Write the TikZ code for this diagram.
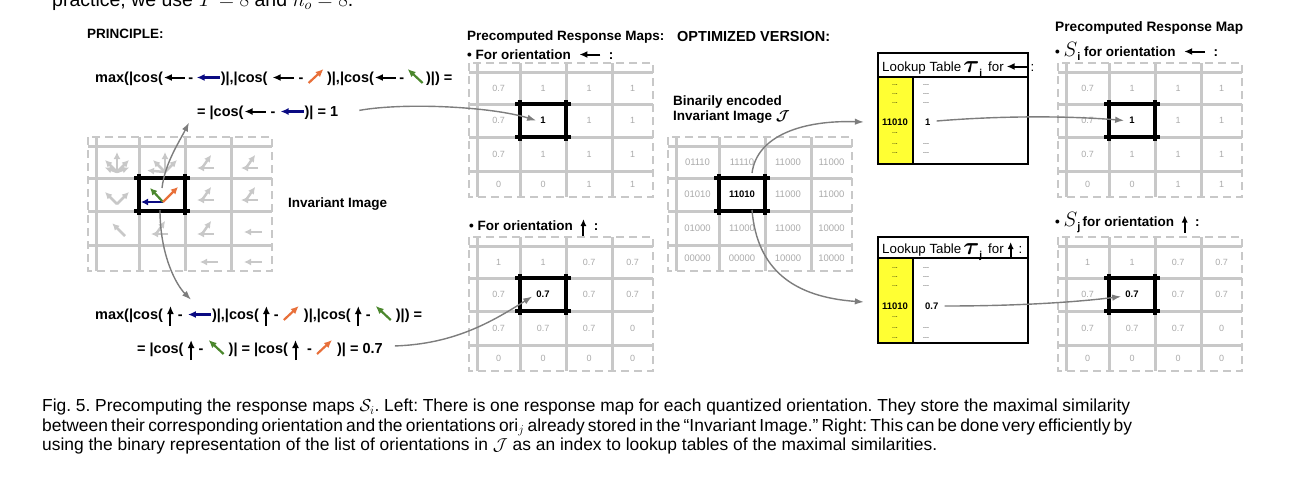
\documentclass[tikz,border=0pt]{standalone}
\usepackage{amsmath}
\usepackage{fontspec}
\setmainfont{Liberation Sans}
\usepackage{bm}
\usetikzlibrary{arrows.meta,calc}

\definecolor{gridgray}{RGB}{200,200,200}
\definecolor{valgray}{RGB}{170,170,170}
\definecolor{conngray}{RGB}{125,125,125}
\definecolor{navyb}{RGB}{10,10,130}
\definecolor{orng}{RGB}{232,112,58}
\definecolor{grn}{RGB}{75,135,45}
\definecolor{yel}{RGB}{255,255,51}

\tikzset{
 gridborder/.style={draw=gridgray, line width=2pt, dash pattern=on 8pt off 5pt},
 gridline/.style={draw=gridgray, line width=3pt},
 hilite/.style={draw=black, line width=3.5pt},
 val/.style={text=valgray, font=\fontsize{9}{9}\selectfont, inner sep=0pt},
 valbold/.style={text=black, font=\bfseries\fontsize{9.5}{9.5}\selectfont, inner sep=0pt},
 conn/.style={draw=conngray, line width=1.4pt, -{Latex[length=9pt,width=6.5pt]}},
 lbl/.style={font=\bfseries\fontsize{13.5}{15}\selectfont, inner sep=0pt, anchor=base west},
 formula/.style={font=\bfseries\fontsize{14.5}{16}\selectfont, inner sep=0pt, anchor=base west},
 garrow/.style={draw=gridgray, line width=2.5pt, -{Latex[length=7pt,width=7pt]}},
 carrow/.style={line width=2.2pt, -{Latex[length=7pt,width=7pt]}},
 tabtxt/.style={font=\fontsize{7}{7}\selectfont, inner sep=0pt},
 tabbold/.style={font=\bfseries\fontsize{9.5}{9.5}\selectfont, inner sep=0pt},
 tabhead/.style={font=\fontsize{13.3}{15}\selectfont, inner sep=0pt, anchor=base west},
 captxt/.style={font=\fontsize{17.4}{20}\selectfont, inner sep=0pt, anchor=base west},
}

\newcommand\arrK{\tikz[x=1pt,y=1pt,baseline=0pt]\draw[line width=2pt,-{Latex[length=8pt,width=7pt]}] (21,4.5) -- (0,4.5);}
\newcommand\arrU{\tikz[x=1pt,y=1pt,baseline=0pt]\draw[line width=2pt,-{Latex[length=8pt,width=7pt]}] (0,-7) -- (0,13);}
\newcommand\arrUs{\tikz[x=1pt,y=1pt,baseline=0pt]\draw[line width=2pt,-{Latex[length=7pt,width=6pt]}] (0,-6) -- (0,11);}
\newcommand\arrB{\tikz[x=1pt,y=1pt,baseline=0pt]\draw[navyb,line width=2.2pt,-{Latex[length=8pt,width=7pt]}] (23,4.5) -- (0,4.5);}
\newcommand\arrO{\tikz[x=1pt,y=1pt,baseline=0pt]\draw[orng,line width=2.2pt,-{Latex[length=8pt,width=7pt]}] (0,-1) -- (15,13);}
\newcommand\arrG{\tikz[x=1pt,y=1pt,baseline=0pt]\draw[grn,line width=2.2pt,-{Latex[length=8pt,width=7pt]}] (15,-1) -- (0,13);}

\newcommand\drawgrid[2]{%
 \begin{scope}[shift={(#1,#2)}]
  \draw[gridborder] (0,0) rectangle (184,134);
  \foreach \vx in {8,51,97,143} \draw[gridline] (\vx,0) -- (\vx,134);
  \foreach \hy in {9,41,74,108} \draw[gridline] (0,\hy) -- (184,\hy);
  \draw[hilite] (46,41) -- (102,41) (46,74) -- (102,74) (51,37) -- (51,78) (97,37) -- (97,78);
 \end{scope}}

\newcommand\gridvals[4]{%
 \foreach \vv [count=\ii from 0] in {#4} {
   \pgfmathtruncatemacro\cc{mod(\ii,4)}
   \pgfmathtruncatemacro\rr{floor(\ii/4)}
   \pgfmathsetmacro\cx{{29.5,74,120,163.5}[\cc]}
   \pgfmathsetmacro\cy{{25,57.5,91,121}[\rr]}
   \node[#3] at ($(#1,#2)+(\cx,\cy)$) {\vv};
 }}

\begin{document}
\begin{tikzpicture}[x=1pt,y=-1pt]
\useasboundingbox (0,0) rectangle (1303,485);
\clip (0,0) rectangle (1303,485);

% partial line of text above the figure (cut by the top edge)
\node[captxt, font=\fontsize{19.5}{22}\selectfont] (topline) at (52,6) {practice, we use $T=8$ and $n_o=8$.};

% ---------------- PRINCIPLE ----------------
\node[lbl] (princ) at (87,38) {PRINCIPLE:};
\node[formula] (row1) at (95,82) {max(|cos(\arrK\,-\,\arrB)|,|cos( \arrK\ -\ \arrO\,)|,|cos(\arrK\,-\,\arrG\,)|) =};
\node[formula] (row2) at (197,116) {= |cos(\arrK\ -\ \arrB)| = 1};
\node[formula] (row3) at (95,319) {max(|cos( \arrU\ -\ \arrB)|,|cos( \arrU\ -\ \arrO\ )|,|cos( \arrU\ -\ \arrG\ )|) =};
\node[formula] (row4) at (137,353) {= |cos( \arrU\ -\ \arrG\ )| = |cos( \arrU\ \ -\ \arrO\ )| = 0.7};

% invariant image
\drawgrid{88}{137}
\foreach \ox/\oy/\ang/\len in {
  117/172/270/20, 117/172/225/17, 117/172/315/17, 117/172/200/13, 117/172/340/13,
  165/172/270/20, 165/172/225/17, 165/172/315/17, 165/172/185/18,
  214/168/180/17, 202/168/305/16,
  258/168/180/17, 246/168/305/16,
  117/204/225/17, 117/204/315/17,
  214/200/180/17, 202/200/305/16,
  258/200/180/17, 246/200/305/16,
  125/236/225/18,
  168/234/180/17, 156/234/305/16,
  214/234/180/17, 202/234/305/16,
  262/232/180/18,
  218/262/180/18, 262/262/180/18}
  \draw[garrow] (\ox,\oy) -- ++(\ang:\len);
\coordinate (invc) at (163,202);
\draw[carrow,navyb] (invc) -- ++(-22,0);
\draw[carrow,grn] (invc) -- ++(-13,-14);
\draw[carrow,orng] (invc) -- ++(15,-15);
\node[lbl] (invlbl) at (288,207) {Invariant Image};
\coordinate (invtop) at (162,188);
\coordinate (invbot) at (160,210);

% ---------------- response maps (left) ----------------
\node[lbl] (prmaps) at (467,40.5) {Precomputed Response Maps:};
\node[lbl] (fo1) at (467,59) {\textbullet\ For orientation \ \arrK\ \ :};
\drawgrid{469}{63}
\gridvals{469}{63}{val}{0.7,1,1,1,0.7,{},1,1,0.7,1,1,1,0,0,1,1}
\node[valbold] (m1v) at (543,120.5) {1};

\node[lbl] (fo2) at (469,230) {\textbullet\ For orientation \ \arrUs\ \ :};
\drawgrid{469}{237}
\gridvals{469}{237}{val}{1,1,0.7,0.7,0.7,{},0.7,0.7,0.7,0.7,0.7,0,0,0,0,0}
\node[valbold] (m2v) at (543,294.5) {0.7};

% ---------------- OPTIMIZED ----------------
\node[lbl, font=\bfseries\fontsize{14.5}{16}\selectfont] (optim) at (677,41.5) {OPTIMIZED VERSION:};
\node[lbl] (bin1) at (673,105) {Binarily encoded};
\node[lbl] (bin2) at (673,120) {Invariant Image $\bm{\mathcal{J}}$};
\drawgrid{668}{137}
\begin{scope}[val/.append style={font=\fontsize{9.5}{9.5}\selectfont}]
\gridvals{668}{137}{val}{01110,11110,11000,11000,01010,{},11000,11000,01000,11000,11000,10000,00000,00000,10000,10000}
\end{scope}
\node[valbold] (jv) at (742,194.5) {11010};
\coordinate (jtop) at (752,173);
\coordinate (jbot) at (752,210);

% lookup table i
\fill[yel] (878,77) rectangle (913,164);
\draw[line width=2pt] (878,53) rectangle (1028,164);
\draw[line width=2pt] (878,77) -- (1028,77) (913,77) -- (913,164);
\node[tabhead] (t1h) at (882,71)
  {Lookup Table\hspace{2pt}\raisebox{-1pt}{\scalebox{1.7}{$\bm{\tau}$}}\raisebox{-5pt}{\bfseries\fontsize{10}{10}\selectfont i}\hspace{6pt}for\hspace{2pt}\arrK\hspace{2pt}:};
\foreach \yy in {85,94,103,133,144,153} \node[tabtxt] at (895,\yy) {...};
\foreach \yy in {85,94,103,144,153} \node[tabtxt, anchor=west] at (923,\yy) {...};
\node[tabbold] (t1k) at (895,122) {11010};
\node[tabbold, anchor=west] (t1v) at (925,122) {1};

% lookup table j
\fill[yel] (878,258) rectangle (913,343);
\draw[line width=2pt] (878,237) rectangle (1028,343);
\draw[line width=2pt] (878,258) -- (1028,258) (913,258) -- (913,343);
\node[tabhead] (t2h) at (882,253)
  {Lookup Table\hspace{2pt}\raisebox{-1pt}{\scalebox{1.7}{$\bm{\tau}$}}\raisebox{-5pt}{\bfseries\fontsize{10}{10}\selectfont j}\hspace{6pt}for\hspace{4pt}\arrUs\hspace{5pt}:};
\foreach \yy in {268,277,286,317,328,338} \node[tabtxt] at (895,\yy) {...};
\foreach \yy in {268,277,286,328,338} \node[tabtxt, anchor=west] at (923,\yy) {...};
\node[tabbold] (t2k) at (895,306) {11010};
\node[tabbold, anchor=west] (t2v) at (925,306) {0.7};

% ---------------- response maps (right) ----------------
\node[lbl, font=\bfseries\fontsize{13.7}{15}\selectfont] (prmap) at (1055,31.5) {Precomputed Response Map};
\node[lbl] (si) at (1055,56) {\textbullet\ {\fontsize{20}{20}\selectfont$S$}\raisebox{-4pt}{\fontsize{11}{11}\selectfont i}\ for orientation \ \arrK\ \ :};
\drawgrid{1058}{63}
\gridvals{1058}{63}{val}{0.7,1,1,1,0.7,{},1,1,0.7,1,1,1,0,0,1,1}
\node[valbold] (siv) at (1132,120.5) {1};

\node[lbl] (sj) at (1055,226.5) {\textbullet\ {\fontsize{20}{20}\selectfont$S$}\raisebox{-4pt}{\fontsize{11}{11}\selectfont j}\,for orientation \ \arrUs\ \ :};
\drawgrid{1058}{237}
\gridvals{1058}{237}{val}{1,1,0.7,0.7,0.7,{},0.7,0.7,0.7,0.7,0.7,0,0,0,0,0}
\node[valbold] (sjv) at (1132,294.5) {0.7};

% ---------------- connectors ----------------
\draw[conn] (invtop) .. controls +(3,-25) and +(-10,20) .. ($(row2.south west)+(-8,3)$);
\draw[conn] (invbot) .. controls +(0,45) and +(-15,-15) .. ($(row3.north west)+(96,-5)$);
\draw[conn] ($(row2.east)+(21,-2)$) .. controls +(45,-8) and +(-45,-14) .. ($(m1v.west)+(-4,0)$);
\draw[conn] ($(row4.east)+(12,-4)$) .. controls +(60,-2) and +(-40,25) .. ($(m2v.west)+(-4,2)$);
\draw[conn] (jtop) .. controls +(5,-38) and +(-60,-2) .. ($(t1k.west)+(-18,0)$);
\draw[conn] (jbot) .. controls +(5,60) and +(-70,-5) .. ($(t2k.west)+(-18,-4)$);
\draw[conn] ($(t1v.east)+(6,-1)$) .. controls +(60,-5) and +(-60,-5) .. ($(siv.west)+(-5,0)$);
\draw[conn] ($(t2v.east)+(6,0)$) .. controls +(80,0) and +(-40,5) .. ($(sjv.west)+(-4,2)$);

% ---------------- caption ----------------
\node[captxt] (cap1) at (42,411.5) {\frenchspacing\makebox[1088pt][s]{Fig. 5. Precomputing the response maps $\mathcal{S}_i$. Left: There is one response map for each quantized orientation. They store the maximal similarity}};
\node[captxt] (cap2) at (42,431) {\frenchspacing\makebox[1088pt][s]{between their corresponding orientation and the orientations $\mathrm{ori}_j$ already stored in the “Invariant Image.” Right: This can be done very efficiently by}};
\node[captxt] (cap3) at (42,450.5) {\frenchspacing using the binary representation of the list of orientations in $\mathcal{J}$ as an index to lookup tables of the maximal similarities.};
\end{tikzpicture}
\end{document}
